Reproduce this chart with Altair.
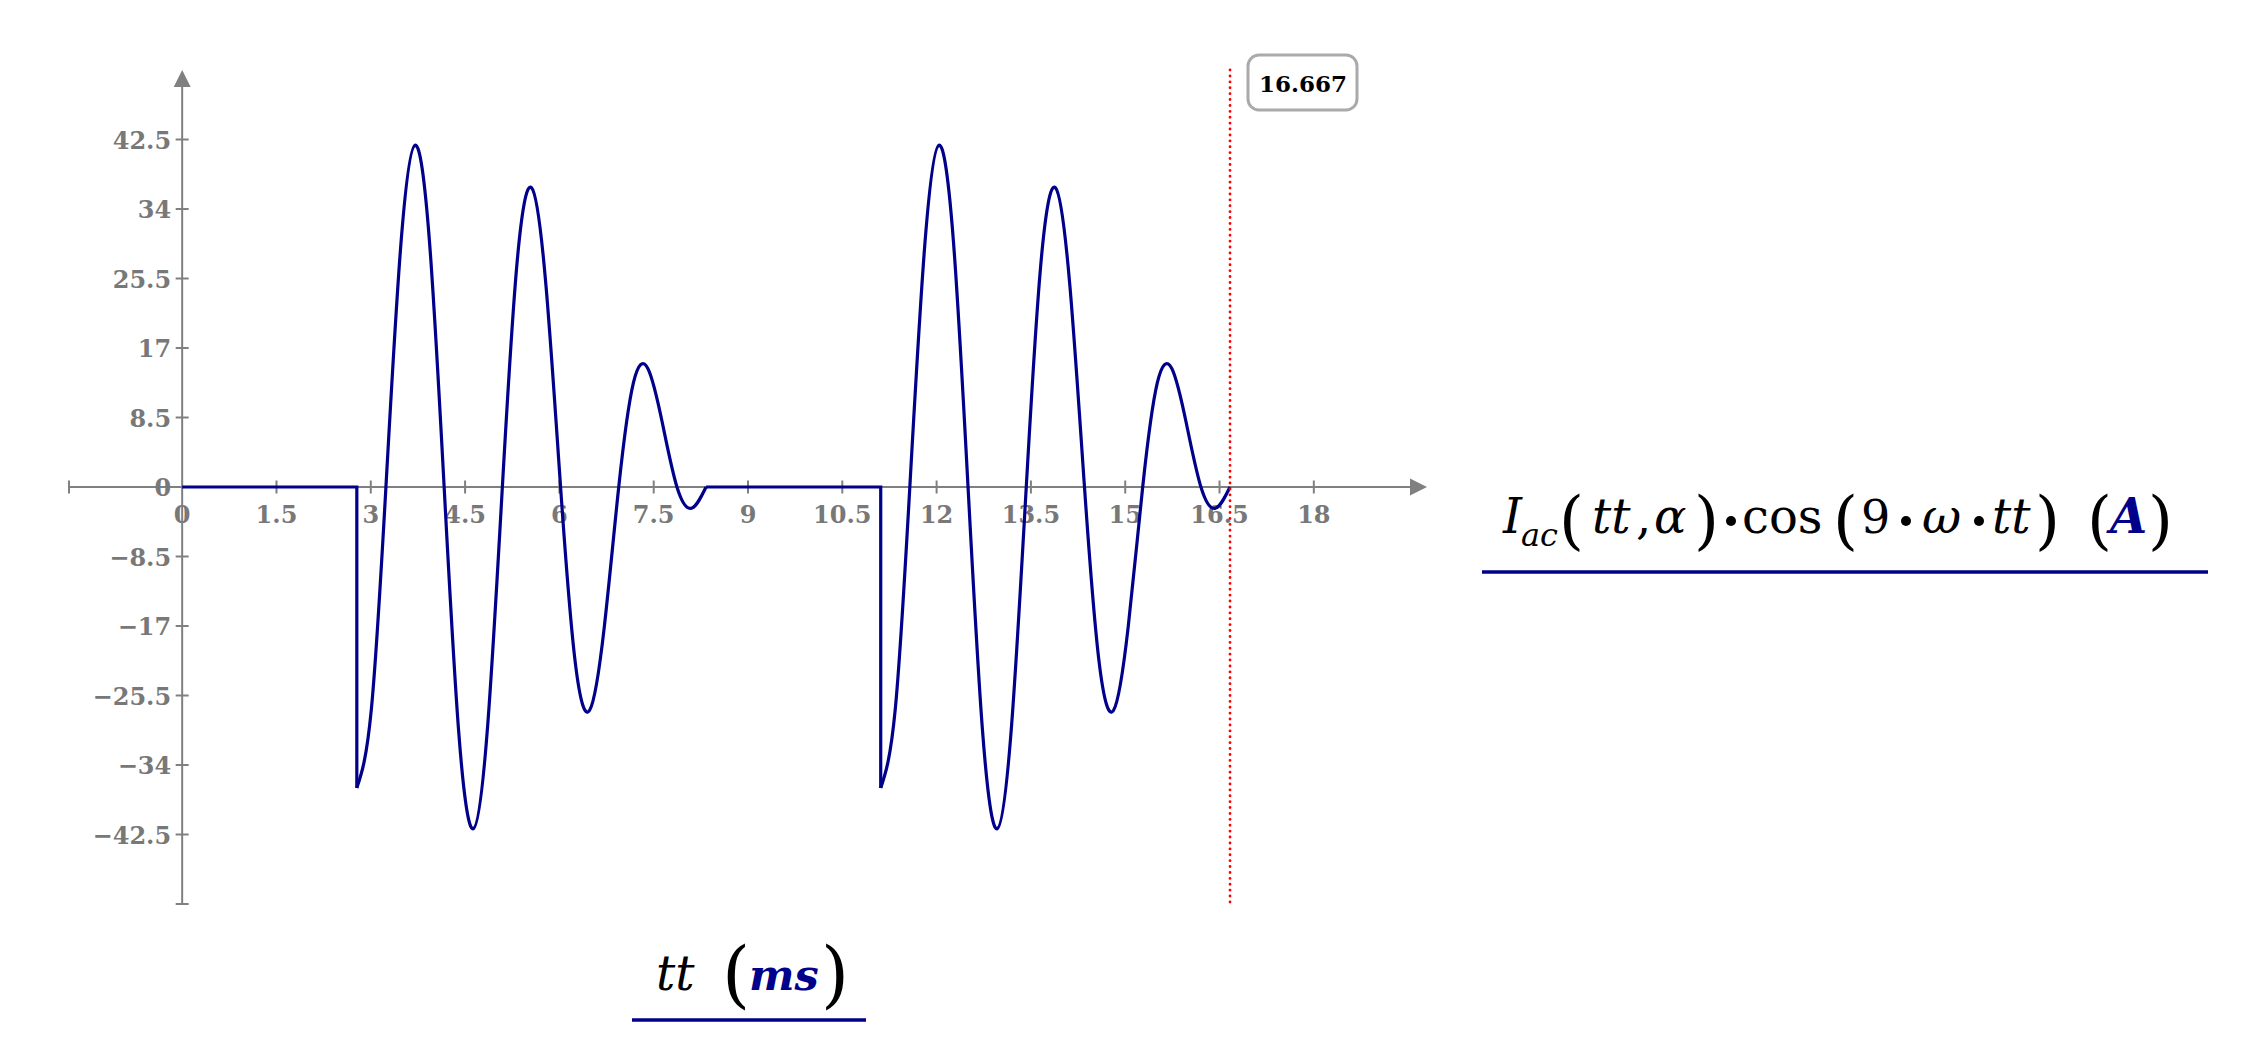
import altair as alt
import pandas as pd

# ---------------- data ----------------
# conducting intervals (oscillating part)
osc1_t = [2.778, 3.009, 3.241, 3.472, 3.704, 3.935, 4.167, 4.398, 4.630,
          4.861, 5.093, 5.324, 5.556, 5.787, 6.019, 6.250, 6.481, 6.713, 6.944,
          7.176, 7.407, 7.639, 7.870, 8.102, 8.333]
osc1_i = [-36.8, -27.2, 0, 29.0, 41.8, 29.9, 0, -29.9, -41.8,
          -29.0, 0, 27.2, 36.6, 24.6, 0, -21.3, -27.3, -17.2, 0,
          12.7, 14.5, 7.8, 0, -2.6, 0]
osc2_t = [11.111, 11.342, 11.574, 11.806, 12.037, 12.269, 12.500, 12.731,
          12.963, 13.194, 13.426, 13.657, 13.889, 14.120, 14.352, 14.583, 14.815,
          15.046, 15.278, 15.509, 15.741, 15.972, 16.204, 16.435, 16.667]
osc2_i = [-36.8, -27.2, 0, 29.0, 41.8, 29.9, 0, -29.9,
          -41.8, -29.0, 0, 27.2, 36.6, 24.6, 0, -21.3, -27.3,
          -17.2, 0, 12.7, 14.5, 7.8, 0, -2.6, 0]
# blocking intervals (zero current, then the step at firing)
off1_t = [0, 2.778, 2.778]
off1_i = [0, 0, -36.8]
off2_t = [8.333, 11.111, 11.111]
off2_i = [0, 0, -36.8]

x_ticks = [0, 1.5, 3, 4.5, 6, 7.5, 9, 10.5, 12, 13.5, 15, 16.5, 18]
y_ticks = [42.5, 34, 25.5, 17, 8.5, 0, -8.5, -17, -25.5, -34, -42.5]
x_range = [-1.8, 19.8]
y_range = [-51, 51]
marker_x = 16.667

# ---------------- styling ----------------
GRAY = "#808080"
LABEL_GRAY = "#787878"
NAVY = "#00008B"
SERIF = "DejaVu Serif"
W, H = 1358, 834

xs = alt.Scale(domain=x_range, nice=False, zero=False)
ys = alt.Scale(domain=y_range, nice=False, zero=False)


def fmt(v):
    return f"{v:g}".replace("-", "\u2212")


osc_df = pd.concat([
    pd.DataFrame({"t": osc1_t, "i": osc1_i, "seg": "a"}),
    pd.DataFrame({"t": osc2_t, "i": osc2_i, "seg": "b"}),
])
off_df = pd.concat([
    pd.DataFrame({"t": off1_t, "i": off1_i, "seg": "a", "k": range(len(off1_t))}),
    pd.DataFrame({"t": off2_t, "i": off2_i, "seg": "b", "k": range(len(off2_t))}),
])
xaxis_df = pd.DataFrame({"x": [x_range[0]], "x2": [x_range[1] - 0.2], "y": [0]})
yaxis_df = pd.DataFrame({"x": [0], "y": [y_range[0]], "y2": [y_range[1] - 0.4]})
xarrow_df = pd.DataFrame({"x": [x_range[1]], "y": [0]})
yarrow_df = pd.DataFrame({"x": [0], "y": [y_range[1]]})
xtick_df = pd.DataFrame({"x": [x_range[0]] + x_ticks[1:], "y": 0})
ytick_df = pd.DataFrame({"y": y_ticks + [y_range[0]], "x": 0})
xlab_df = pd.DataFrame({"x": x_ticks, "y": 0, "lab": [fmt(v) for v in x_ticks]})
ylab_df = pd.DataFrame({"y": y_ticks, "x": 0, "lab": [fmt(v) for v in y_ticks]})
marker_df = pd.DataFrame({"x": [marker_x], "y": [y_range[1]], "y2": [y_range[0]],
                          "lab": [f"{marker_x:.3f}"]})
one = pd.DataFrame({"d": [0]})

X = lambda f: alt.X(f, scale=xs, axis=None)
Y = lambda f: alt.Y(f, scale=ys, axis=None)

layers = []

# axis lines
layers.append(alt.Chart(xaxis_df).mark_rule(color=GRAY, strokeWidth=2).encode(
    x=X("x:Q"), x2="x2:Q", y=Y("y:Q")))
layers.append(alt.Chart(yaxis_df).mark_rule(color=GRAY, strokeWidth=2).encode(
    x=X("x:Q"), y=Y("y:Q"), y2="y2:Q"))
# arrow heads
layers.append(alt.Chart(xarrow_df).mark_point(
    shape="M-1,-0.5L0,0L-1,0.5Z", filled=True, size=1156, color=GRAY, opacity=1,
    strokeWidth=0).encode(x=X("x:Q"), y=Y("y:Q")))
layers.append(alt.Chart(yarrow_df).mark_point(
    shape="M-0.5,1L0,0L0.5,1Z", filled=True, size=1156, color=GRAY, opacity=1,
    strokeWidth=0).encode(x=X("x:Q"), y=Y("y:Q")))
# ticks
layers.append(alt.Chart(xtick_df).mark_tick(
    orient="vertical", size=13, thickness=2, color=GRAY, opacity=1).encode(
    x=X("x:Q"), y=Y("y:Q")))
layers.append(alt.Chart(ytick_df).mark_tick(
    orient="horizontal", size=13, thickness=2, color=GRAY, opacity=1).encode(
    x=X("x:Q"), y=Y("y:Q")))
# tick labels
layers.append(alt.Chart(xlab_df).mark_text(
    align="center", baseline="alphabetic", dy=36, font=SERIF, fontWeight="bold",
    fontSize=24, color=LABEL_GRAY).encode(x=X("x:Q"), y=Y("y:Q"), text="lab:N"))
layers.append(alt.Chart(ylab_df).mark_text(
    align="right", baseline="alphabetic", dx=-11, dy=9, font=SERIF, fontWeight="bold",
    fontSize=24, color=LABEL_GRAY).encode(x=X("x:Q"), y=Y("y:Q"), text="lab:N"))

# the curve
layers.append(alt.Chart(off_df).mark_line(
    interpolate="linear", color=NAVY, strokeWidth=3.2).encode(
    x=X("t:Q"), y=Y("i:Q"), detail="seg:N", order="k:Q"))
layers.append(alt.Chart(osc_df).mark_line(
    interpolate="natural", color=NAVY, strokeWidth=3.2).encode(
    x=X("t:Q"), y=Y("i:Q"), detail="seg:N"))

# marker line + label box
layers.append(alt.Chart(marker_df).mark_rule(
    color="#ff0000", strokeWidth=2.8, strokeDash=[0.1, 5.8], strokeCap="round").encode(
    x=X("x:Q"), y=Y("y:Q"), y2="y2:Q"))
layers.append(alt.Chart(marker_df).mark_rect(
    fill="white", stroke="#aaaaaa", strokeWidth=3, cornerRadius=11).encode(
    x=alt.value(1179), x2=alt.value(1288), y=alt.value(-15), y2=alt.value(40)))
layers.append(alt.Chart(marker_df).mark_text(
    align="center", baseline="alphabetic", font=SERIF, fontWeight="bold",
    fontSize=23, color="black").encode(
    x=alt.value(1234), y=alt.value(22), text="lab:N"))


def piece(txt, px, py, size=48, style="normal", weight="normal", color="black"):
    return alt.Chart(one).mark_text(
        text=txt, align="left", baseline="alphabetic", font=SERIF, fontSize=size,
        fontStyle=style, fontWeight=weight, color=color).encode(
        x=alt.value(px), y=alt.value(py))


def dot(px, py):
    return alt.Chart(one).mark_point(
        shape="circle", filled=True, size=100, color="black", opacity=1,
        strokeWidth=0).encode(x=alt.value(px), y=alt.value(py))


def underline(px1, px2, py):
    return alt.Chart(one).mark_rule(color=NAVY, strokeWidth=3.5).encode(
        x=alt.value(px1), x2=alt.value(px2), y=alt.value(py))


# right-hand (y) title: I_ac(tt, α)·cos(9·ω·tt) (A)
yb = 463
pb = 472
dy_dot = 451
layers += [
    piece("I", 1434, yb, style="italic"),
    piece("ac", 1452, 476, size=32, style="italic"),
    piece("(", 1490, pb, size=64),
    piece("tt", 1523, yb, style="italic"),
    piece(",", 1567, yb),
    piece("\u03b1", 1585, yb, style="italic"),
    piece(")", 1625, pb, size=64),
    dot(1662, dy_dot),
    piece("cos", 1673, yb),
    piece("(", 1764, pb, size=64),
    piece("9", 1792, yb, size=46),
    dot(1837, dy_dot),
    piece("\u03c9", 1853, yb, style="italic"),
    dot(1910, dy_dot),
    piece("tt", 1923, yb, style="italic"),
    piece(")", 1966, pb, size=64),
    piece("(", 2018, pb, size=64),
    piece("A", 2041, yb, style="italic", weight="bold", color=NAVY),
    piece(")", 2079, pb, size=64),
    underline(1413, 2139, 502),
]

# bottom (x) title: tt (ms)
xb = 920
layers += [
    piece("tt", 587, xb, style="italic"),
    piece("(", 653, 929, size=72),
    piece("ms", 680, xb, size=43, style="italic", weight="bold", color=NAVY),
    piece(")", 752, 929, size=72),
    underline(563, 797, 950),
]

chart = alt.layer(*layers).properties(
    width=W, height=H,
    padding={"left": 61, "top": 62, "right": 820, "bottom": 125},
    autosize=alt.AutoSizeParams(type="none"),
    background="white",
).configure_view(stroke="transparent")

chart.save("out.html", embed_options={"renderer": "svg", "actions": False})
